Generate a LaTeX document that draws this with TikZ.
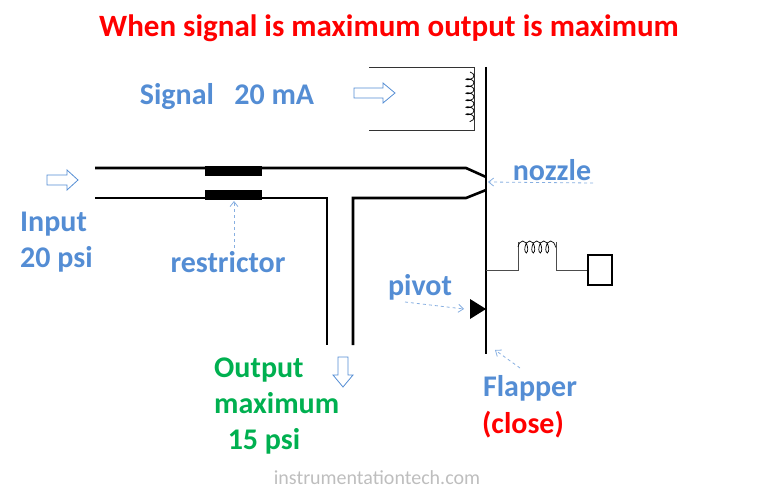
\documentclass[tikz,border=0pt]{standalone}
\usepackage{fontspec}
\setmainfont{Carlito}
\usetikzlibrary{decorations.pathmorphing,arrows.meta}
\definecolor{lb}{RGB}{84,141,212}
\definecolor{gr}{RGB}{0,176,80}
\definecolor{rd}{RGB}{255,0,0}
\definecolor{ft}{RGB}{190,190,190}
\begin{document}
\begin{tikzpicture}[x=1pt,y=-1pt,
  pipe/.style={line width=2.6pt,line join=miter},
  lbl/.style={font=\fontsize{30}{36}\selectfont\bfseries,text=lb,inner sep=0pt},
  hollow/.style={draw=lb,fill=white,line width=0.8pt},
  ptr/.style={draw=lb!70,dashed,line width=0.8pt,-{Straight Barb[length=5pt,width=8pt]}}]
\useasboundingbox (0,0) rectangle (768,494);
\node[font=\fontsize{31}{34}\selectfont\bfseries,text=rd] (title) at (389,28) {When signal is maximum output is maximum};
% flapper
\coordinate (ft) at (486,67); \coordinate (fb) at (486,354);
\draw[pipe] (ft) -- (fb);
% signal box & coil
\draw[line width=0.8pt,black!80] (369,67) -- (474,67) -- (474,130) -- (369,130);
\draw[line width=0.7pt,decorate,decoration={coil,segment length=7pt,amplitude=4pt,aspect=0.5}] (470,72) -- (470,122);
% pipes
\draw[pipe] (95,168) -- (466,168) -- (486,177);
\draw[pipe] (95,198) -- (327,198) -- (327,345);
\draw[pipe] (353,345) -- (353,198) -- (466,198) -- (486,190);
\fill (205,166) rectangle (262,176);
\fill (205,190) rectangle (262,200);
% spring and box
\draw[line width=0.8pt,black!70] (486,270) -- (518,270) -- (518,242);
\draw[line width=0.7pt,decorate,decoration={coil,segment length=7pt,amplitude=6pt,aspect=0.5}] (518,247) -- (556,247);
\draw[line width=0.8pt,black!70] (556,242) -- (556,270) -- (588,270);
\draw[line width=1.6pt] (588,255) rectangle (612,285);
\fill (470,299) -- (486,309) -- (470,319) -- cycle;
% hollow arrows
\draw[hollow] (47,175) -- (67,175) -- (67,170) -- (78,180) -- (67,190) -- (67,185) -- (47,185) -- cycle;
\draw[hollow] (354,88) -- (383,88) -- (383,83) -- (395,93) -- (383,103) -- (383,98) -- (354,98) -- cycle;
\draw[hollow] (338,357) -- (338,375) -- (333,375) -- (343,387) -- (353,375) -- (348,375) -- (348,357) -- cycle;
% labels
\node[lbl] (sig) at (227,97) {Signal\ \ \ 20 mA};
\node[lbl] (noz) at (552,170) {nozzle};
\node[lbl,align=left,anchor=west] (inp) at (20,242) {Input\\20 psi};
\node[lbl] (res) at (228,262) {restrictor};
\node[lbl] (piv) at (420,287) {pivot};
\node[lbl,text=gr,align=left,anchor=west] (out) at (214,406) {Output\\maximum\\\ \ 15 psi};
\node[lbl] (fl) at (530,388) {Flapper};
\node[lbl,text=rd] (cl) at (523,425) {(close)};
\node[font=\fontsize{20}{22}\selectfont,text=ft] (foot) at (377,478) {instrumentationtech.com};
% dashed pointers
\coordinate (nz) at (488,182); \coordinate (rs) at (234,201);
\coordinate (pv) at (464,309); \coordinate (fp) at (495,350);
\draw[ptr] (593,183) -- (nz);
\draw[ptr] (234,248) -- (rs);
\draw[ptr] (405,302) -- (pv);
\draw[ptr] (520,368) -- (fp);
\end{tikzpicture}
\end{document}
